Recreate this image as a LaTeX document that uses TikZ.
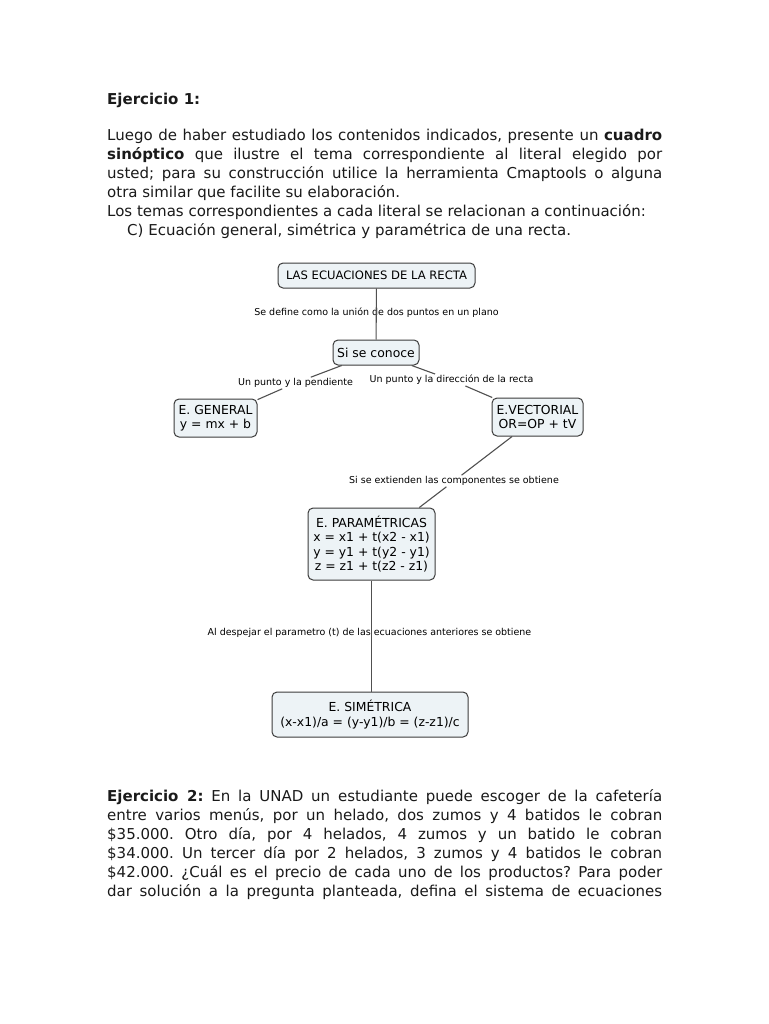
\documentclass[tikz,border=0pt]{standalone}
\usepackage{fontspec}
\setmainfont{DejaVu Sans}
\definecolor{boxfill}{HTML}{EDF3F6}
\definecolor{boxline}{HTML}{3C3C3C}
\definecolor{linkc}{HTML}{505050}
\definecolor{bodyc}{HTML}{1A1A1A}
\frenchspacing
\begin{document}
\begin{tikzpicture}[x=1pt,y=-1pt,
 concept/.style={draw=boxline, line width=1pt, fill=boxfill, rounded corners=5pt, align=center, font=\fontsize{12.4}{14.5}\selectfont, inner sep=0pt},
 linklabel/.style={font=\fontsize{9.5}{11}\selectfont, inner sep=1pt},
 conn/.style={draw=linkc, line width=1.1pt},
 body/.style={anchor=base west, inner sep=0pt, text=bodyc, font=\fontsize{15}{19}\selectfont}]
\useasboundingbox (0,0) rectangle (768,1024);
\fill[white] (0,0) rectangle (768,1024);

% Ejercicio 1 text
\node[body] (t1) at (107,105) {\textbf{Ejercicio 1:}};
\node[body] (t2) at (107,141) {\makebox[555pt][s]{Luego de haber estudiado los contenidos indicados, presente un \textbf{cuadro}}};
\node[body] (t3) at (107,160) {\makebox[555pt][s]{\textbf{sinóptico} que ilustre el tema correspondiente al literal elegido por}};
\node[body] (t4) at (107,179) {\makebox[555pt][s]{usted; para su construcción utilice la herramienta Cmaptools o alguna}};
\node[body] (t5) at (107,198) {otra similar que facilite su elaboración.};
\node[body] (t6) at (107,217) {Los temas correspondientes a cada literal se relacionan a continuación:};
\node[body] (t7) at (127,236) {C) Ecuación general, simétrica y paramétrica de una recta.};

% Concept map
\node[concept, minimum width=197pt, minimum height=25pt, font=\fontsize{11.6}{14}\selectfont] (las) at (376.5,275.5) {LAS ECUACIONES DE LA RECTA};
\node[concept, minimum width=86pt, minimum height=25pt] (conoce) at (376,352.5) {Si se conoce};
\node[concept, minimum width=83pt, minimum height=38pt] (general) at (215.5,418) {E. GENERAL\\y = mx + b};
\node[concept, minimum width=91pt, minimum height=38pt] (vector) at (537.5,417) {E.VECTORIAL\\OR=OP + tV};
\node[concept, minimum width=127pt, minimum height=72pt] (param) at (371.5,544) {E. PARAMÉTRICAS\\x = x1 + t(x2 - x1)\\y = y1 + t(y2 - y1)\\z = z1 + t(z2 - z1)};
\node[concept, minimum width=196pt, minimum height=45pt] (sim) at (370,714.5) {E. SIMÉTRICA\\(x-x1)/a = (y-y1)/b = (z-z1)/c};

\node[linklabel] (l1) at (376.5,313) {Se define como la unión de dos puntos en un plano};
\node[linklabel] (l2) at (295.5,383) {Un punto y la pendiente};
\node[linklabel] (l3) at (451.5,380) {Un punto y la dirección de la recta};
\node[linklabel] (l4) at (454,481) {Si se extienden las componentes se obtiene};
\node[linklabel] (l5) at (369.5,633) {Al despejar el parametro (t) de las ecuaciones anteriores se obtiene};

\draw[conn] (las) -- (conoce);
\draw[conn] (conoce) -- (l2);
\draw[conn] (l2) -- (general);
\draw[conn] (conoce) -- (l3);
\draw[conn] (l3) -- (vector);
\draw[conn] (vector) -- (l4);
\draw[conn] (l4) -- (param);
\draw[conn] (param.south) -- (param.south |- sim.north);

% Ejercicio 2 text
\node[body] (e1) at (107,801) {\makebox[555pt][s]{\textbf{Ejercicio 2:} En la UNAD un estudiante puede escoger de la cafetería}};
\node[body] (e2) at (107,820) {\makebox[555pt][s]{entre varios menús, por un helado, dos zumos y 4 batidos le cobran}};
\node[body] (e3) at (107,839) {\makebox[555pt][s]{\$35.000. Otro día, por 4 helados, 4 zumos y un batido le cobran}};
\node[body] (e4) at (107,858) {\makebox[555pt][s]{\$34.000. Un tercer día por 2 helados, 3 zumos y 4 batidos le cobran}};
\node[body] (e5) at (107,877) {\makebox[555pt][s]{\$42.000. ¿Cuál es el precio de cada uno de los productos? Para poder}};
\node[body] (e6) at (107,896) {\makebox[555pt][s]{dar solución a la pregunta planteada, defina el sistema de ecuaciones}};
\end{tikzpicture}
\end{document}
